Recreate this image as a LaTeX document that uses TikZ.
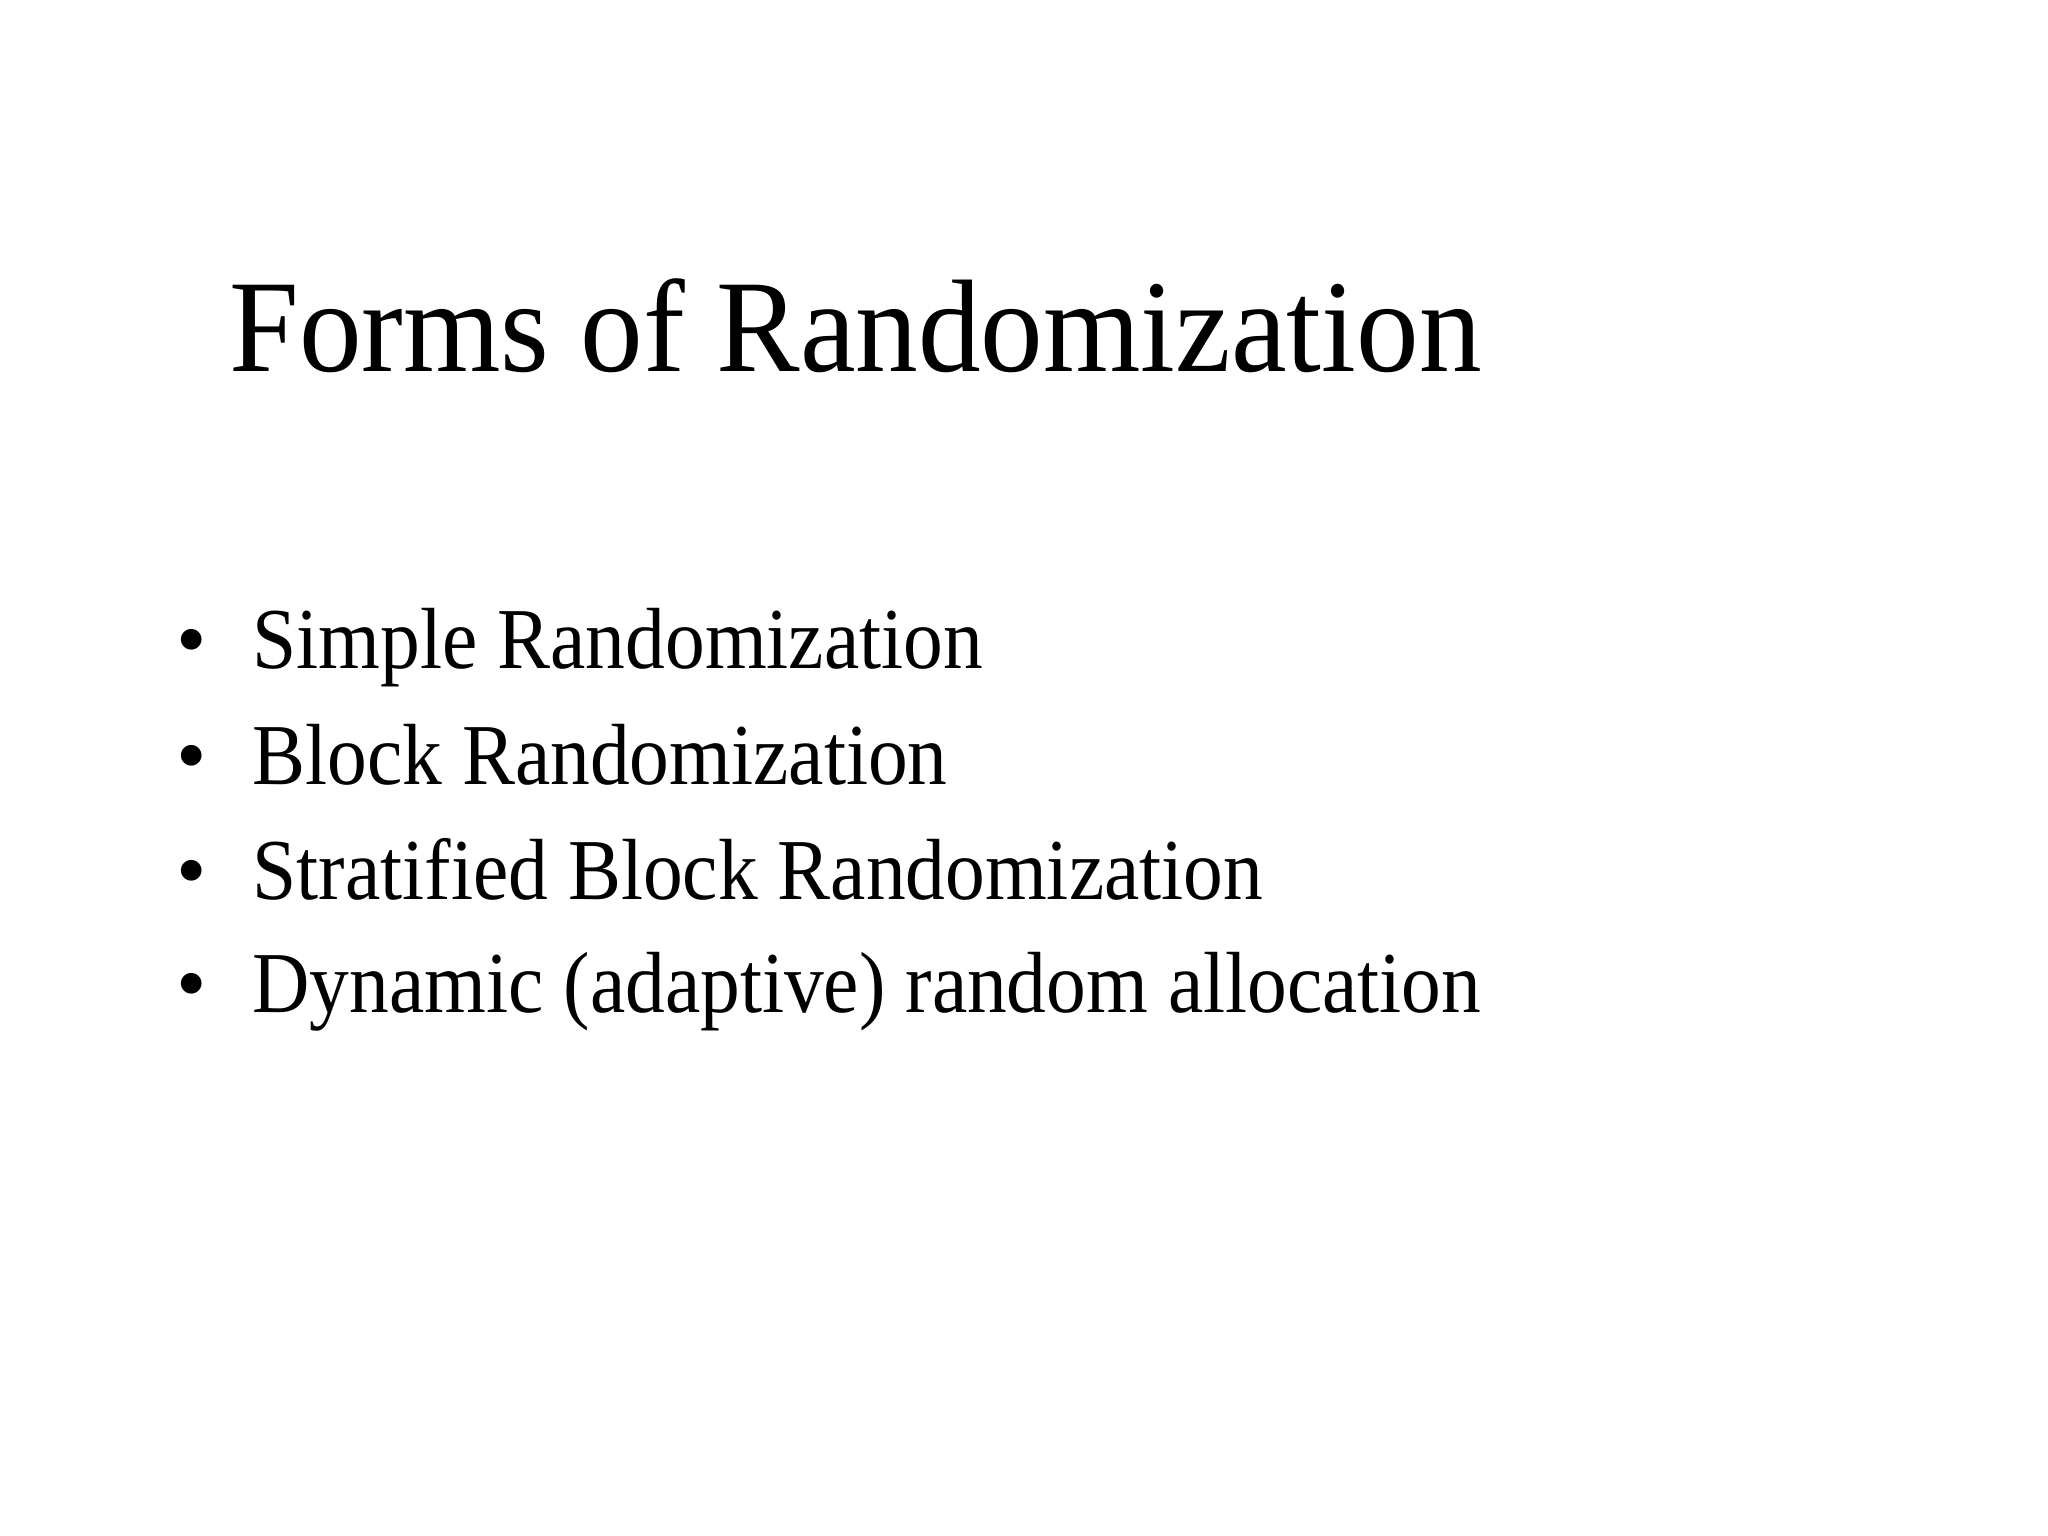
\documentclass[tikz,border=0pt]{standalone}
\usepackage{fontspec}
\setmainfont{Liberation Serif}
\begin{document}
\begin{tikzpicture}[x=1cm,y=1cm,
  title/.style={anchor=base west,inner sep=0pt,xscale=0.95,transform shape,font=\fontsize{37.5pt}{40pt}\selectfont},
  item/.style={anchor=base west,inner sep=0pt,xscale=0.915,transform shape,font=\fontsize{24.7pt}{28pt}\selectfont},
  bul/.style={anchor=base west,inner sep=0pt,font=\fontsize{24.7pt}{28pt}\selectfont}]
\useasboundingbox (0,0) rectangle (20.48,-15.36);
\node[title] (t) at (2.29,-3.72) {Forms of Randomization};
\foreach \i/\y/\txt in {1/6.69/Simple Randomization,2/7.84/Block Randomization,3/8.99/Stratified Block Randomization,4/10.12/Dynamic (adaptive) random allocation}{
  \node[bul] (b\i) at (1.76,-\y) {•};
  \node[item] (i\i) at (2.52,-\y) {\txt};
}
\end{tikzpicture}
\end{document}
